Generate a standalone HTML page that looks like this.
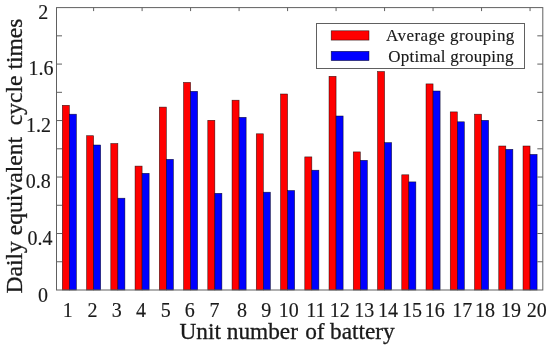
<!DOCTYPE html>
<html lang="en"><head><meta charset="utf-8"><title>Daily equivalent cycle times</title>
<style>
html,body{margin:0;padding:0;background:#fff;}
svg{display:block;}
text{font-family:"Liberation Serif",serif;fill:#1a1a1a;stroke:#1a1a1a;stroke-width:0.15px;}
.ttl{stroke-width:0.3px;white-space:pre;}
</style></head><body>
<svg width="550" height="347" viewBox="0 0 550 347">
<rect x="0" y="0" width="550" height="347" fill="#ffffff"/>

<g stroke="#000" stroke-opacity="0.75" stroke-width="0.6">
<rect x="62.31" y="105.30" width="7.05" height="184.70" fill="#ff0000"/>
<rect x="69.36" y="114.20" width="7.05" height="175.80" fill="#0000ff"/>
<rect x="86.56" y="135.70" width="7.05" height="154.30" fill="#ff0000"/>
<rect x="93.61" y="145.00" width="7.05" height="145.00" fill="#0000ff"/>
<rect x="110.80" y="143.50" width="7.05" height="146.50" fill="#ff0000"/>
<rect x="117.85" y="198.20" width="7.05" height="91.80" fill="#0000ff"/>
<rect x="135.05" y="166.10" width="7.05" height="123.90" fill="#ff0000"/>
<rect x="142.10" y="173.30" width="7.05" height="116.70" fill="#0000ff"/>
<rect x="159.30" y="107.10" width="7.05" height="182.90" fill="#ff0000"/>
<rect x="166.35" y="159.30" width="7.05" height="130.70" fill="#0000ff"/>
<rect x="183.54" y="82.40" width="7.05" height="207.60" fill="#ff0000"/>
<rect x="190.59" y="91.30" width="7.05" height="198.70" fill="#0000ff"/>
<rect x="207.79" y="120.30" width="7.05" height="169.70" fill="#ff0000"/>
<rect x="214.84" y="193.30" width="7.05" height="96.70" fill="#0000ff"/>
<rect x="232.04" y="100.20" width="7.05" height="189.80" fill="#ff0000"/>
<rect x="239.09" y="117.30" width="7.05" height="172.70" fill="#0000ff"/>
<rect x="256.28" y="133.80" width="7.05" height="156.20" fill="#ff0000"/>
<rect x="263.33" y="192.20" width="7.05" height="97.80" fill="#0000ff"/>
<rect x="280.53" y="94.00" width="7.05" height="196.00" fill="#ff0000"/>
<rect x="287.58" y="190.50" width="7.05" height="99.50" fill="#0000ff"/>
<rect x="304.78" y="156.90" width="7.05" height="133.10" fill="#ff0000"/>
<rect x="311.83" y="170.20" width="7.05" height="119.80" fill="#0000ff"/>
<rect x="329.02" y="76.30" width="7.05" height="213.70" fill="#ff0000"/>
<rect x="336.07" y="116.00" width="7.05" height="174.00" fill="#0000ff"/>
<rect x="353.27" y="151.90" width="7.05" height="138.10" fill="#ff0000"/>
<rect x="360.32" y="160.30" width="7.05" height="129.70" fill="#0000ff"/>
<rect x="377.52" y="71.50" width="7.05" height="218.50" fill="#ff0000"/>
<rect x="384.57" y="142.60" width="7.05" height="147.40" fill="#0000ff"/>
<rect x="401.76" y="174.80" width="7.05" height="115.20" fill="#ff0000"/>
<rect x="408.81" y="181.90" width="7.05" height="108.10" fill="#0000ff"/>
<rect x="426.01" y="83.90" width="7.05" height="206.10" fill="#ff0000"/>
<rect x="433.06" y="91.00" width="7.05" height="199.00" fill="#0000ff"/>
<rect x="450.26" y="111.90" width="7.05" height="178.10" fill="#ff0000"/>
<rect x="457.31" y="121.80" width="7.05" height="168.20" fill="#0000ff"/>
<rect x="474.50" y="114.20" width="7.05" height="175.80" fill="#ff0000"/>
<rect x="481.55" y="120.30" width="7.05" height="169.70" fill="#0000ff"/>
<rect x="498.75" y="146.00" width="7.05" height="144.00" fill="#ff0000"/>
<rect x="505.80" y="149.30" width="7.05" height="140.70" fill="#0000ff"/>
<rect x="523.00" y="146.00" width="7.05" height="144.00" fill="#ff0000"/>
<rect x="530.05" y="154.40" width="7.05" height="135.60" fill="#0000ff"/>
</g>
<g stroke="#606060" stroke-width="1" fill="none">
<rect x="56.5" y="7.6" width="486.30" height="282.40"/>
<line x1="56.5" y1="261.76" x2="62.0" y2="261.76"/>
<line x1="542.8" y1="261.76" x2="537.3" y2="261.76"/>
<line x1="56.5" y1="233.52" x2="62.0" y2="233.52"/>
<line x1="542.8" y1="233.52" x2="537.3" y2="233.52"/>
<line x1="56.5" y1="205.28" x2="62.0" y2="205.28"/>
<line x1="542.8" y1="205.28" x2="537.3" y2="205.28"/>
<line x1="56.5" y1="177.04" x2="62.0" y2="177.04"/>
<line x1="542.8" y1="177.04" x2="537.3" y2="177.04"/>
<line x1="56.5" y1="148.80" x2="62.0" y2="148.80"/>
<line x1="542.8" y1="148.80" x2="537.3" y2="148.80"/>
<line x1="56.5" y1="120.56" x2="62.0" y2="120.56"/>
<line x1="542.8" y1="120.56" x2="537.3" y2="120.56"/>
<line x1="56.5" y1="92.32" x2="62.0" y2="92.32"/>
<line x1="542.8" y1="92.32" x2="537.3" y2="92.32"/>
<line x1="56.5" y1="64.08" x2="62.0" y2="64.08"/>
<line x1="542.8" y1="64.08" x2="537.3" y2="64.08"/>
<line x1="56.5" y1="35.84" x2="62.0" y2="35.84"/>
<line x1="542.8" y1="35.84" x2="537.3" y2="35.84"/>
<line x1="93.61" y1="7.6" x2="93.61" y2="11.1"/>
<line x1="142.10" y1="7.6" x2="142.10" y2="11.1"/>
<line x1="190.59" y1="7.6" x2="190.59" y2="11.1"/>
<line x1="239.09" y1="7.6" x2="239.09" y2="11.1"/>
<line x1="287.58" y1="7.6" x2="287.58" y2="11.1"/>
<line x1="336.07" y1="7.6" x2="336.07" y2="11.1"/>
<line x1="384.57" y1="7.6" x2="384.57" y2="11.1"/>
<line x1="433.06" y1="7.6" x2="433.06" y2="11.1"/>
<line x1="481.55" y1="7.6" x2="481.55" y2="11.1"/>
<line x1="530.05" y1="7.6" x2="530.05" y2="11.1"/>
</g>
<g font-size="20" text-anchor="middle">
<text x="67.80" y="317">1</text>
<text x="92.50" y="317">2</text>
<text x="116.70" y="317">3</text>
<text x="141.10" y="317">4</text>
<text x="165.80" y="317">5</text>
<text x="189.80" y="317">6</text>
<text x="214.50" y="317">7</text>
<text x="242.00" y="317">8</text>
<text x="266.30" y="317">9</text>
<text x="288.75" y="317">10</text>
<text x="315.90" y="317">11</text>
<text x="339.80" y="317">12</text>
<text x="364.15" y="317">13</text>
<text x="387.95" y="317">14</text>
<text x="412.05" y="317">15</text>
<text x="434.80" y="317">16</text>
<text x="462.35" y="317">17</text>
<text x="485.05" y="317">18</text>
<text x="510.90" y="317">19</text>
<text x="536.65" y="317">20</text>
</g>
<g font-size="20" text-anchor="end">
<text x="48.3" y="18.8">2</text>
<text x="53.4" y="75.4">1.6</text>
<text x="51.0" y="132.4">1.2</text>
<text x="50.7" y="188.3">0.8</text>
<text x="52.6" y="245.0">0.4</text>
<text x="48.0" y="301.8">0</text>
</g>
<text class="ttl" x="179.5" y="338.8" font-size="23.3" xml:space="preserve">Unit number <tspan dx="1.4">of</tspan> <tspan dx="-0.3">battery</tspan></text>
<text class="ttl" transform="translate(21.5 293.5) rotate(-90)" font-size="23.3" textLength="275" lengthAdjust="spacingAndGlyphs" xml:space="preserve">Daily equivalent  cycle times</text>
<rect x="316.5" y="23.5" width="208" height="45" fill="#fff" stroke="#606060" stroke-width="1"/>
<rect x="331.2" y="30.8" width="37.8" height="9.3" fill="#ff0000" stroke="#000" stroke-opacity="0.75" stroke-width="0.6"/>
<rect x="331.2" y="51.3" width="37.8" height="9.3" fill="#0000ff" stroke="#000" stroke-opacity="0.75" stroke-width="0.6"/>
<text x="386.1" y="41.4" font-size="17" textLength="128.2" lengthAdjust="spacing">Average grouping</text>
<text x="388.2" y="61.8" font-size="17" textLength="125.2" lengthAdjust="spacing">Optimal grouping</text>
</svg>
</body></html>
